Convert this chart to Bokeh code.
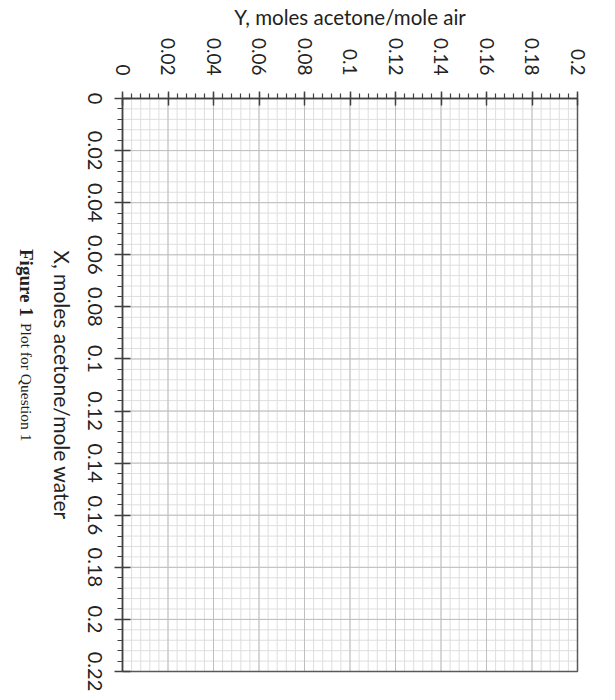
import math
from bokeh.plotting import figure
from bokeh.models import Range1d, FixedTicker, LinearAxis
from bokeh.core.properties import value
from bokeh.embed import file_html
from bokeh.resources import INLINE

# X axis (moles acetone / mole water), runs downward on the page
x_ticks = [0, 0.02, 0.04, 0.06, 0.08, 0.1, 0.12, 0.14, 0.16, 0.18, 0.2, 0.22]
x_labels = ["0", "0.02", "0.04", "0.06", "0.08", "0.1", "0.12", "0.14", "0.16", "0.18", "0.2", "0.22"]
# Y axis (moles acetone / mole air), runs left to right along the top
y_ticks = [0, 0.02, 0.04, 0.06, 0.08, 0.1, 0.12, 0.14, 0.16, 0.18, 0.2]
y_labels = ["0", "0.02", "0.04", "0.06", "0.08", "0.1", "0.12", "0.14", "0.16", "0.18", "0.2"]
minor_step = 0.004

x_title = "X, moles acetone/mole water"
y_title = "Y, moles acetone/mole air"
caption_bold = "Figure 1"
caption_rest = "Plot for Question 1"

# layout (pixels)
FIG_W, FIG_H = 615, 700
M_LEFT, M_TOP, M_RIGHT, M_BOTTOM = 122, 98, 38, 29
DARK = "#404040"
TXT = "#222222"


def minors(lo, hi, step):
    n = int(round((hi - lo) / step))
    return [round(lo + i * step, 6) for i in range(n + 1)]


x_minor = minors(x_ticks[0], x_ticks[-1], minor_step)
y_minor = minors(y_ticks[0], y_ticks[-1], minor_step)

sx = (y_ticks[-1] - y_ticks[0]) / (FIG_W - M_LEFT - M_RIGHT)
sy = (x_ticks[-1] - x_ticks[0]) / (FIG_H - M_TOP - M_BOTTOM)

p = figure(width=FIG_W, height=FIG_H,
           x_range=Range1d(y_ticks[0] - M_LEFT * sx, y_ticks[-1] + M_RIGHT * sx),
           y_range=Range1d(x_ticks[-1] + M_BOTTOM * sy, x_ticks[0] - M_TOP * sy),
           x_axis_type=None, y_axis_type=None,
           output_backend="svg", toolbar_location=None, min_border=0,
           background_fill_color="white", border_fill_color="white")
p.outline_line_color = None

# grid: minor lines first, then major lines
p.segment(x0=y_minor, y0=x_ticks[0], x1=y_minor, y1=x_ticks[-1], line_color="#dedede", line_width=1)
p.segment(x0=y_ticks[0], y0=x_minor, x1=y_ticks[-1], y1=x_minor, line_color="#dedede", line_width=1)
p.segment(x0=y_ticks, y0=x_ticks[0], x1=y_ticks, y1=x_ticks[-1], line_color="#bfbfbf", line_width=1)
p.segment(x0=y_ticks[0], y0=x_ticks, x1=y_ticks[-1], y1=x_ticks, line_color="#bfbfbf", line_width=1)

# plot-area border
p.quad(left=y_ticks[0], right=y_ticks[-1], top=x_ticks[0], bottom=x_ticks[-1],
       fill_color=None, line_color="#595959", line_width=1.5)

# top axis (Y values)
xa = LinearAxis(fixed_location=x_ticks[0], bounds=(y_ticks[0], y_ticks[-1]),
                ticker=FixedTicker(ticks=y_ticks, minor_ticks=y_minor),
                major_label_overrides={t: l for t, l in zip(y_ticks, y_labels)},
                major_label_orientation=-math.pi / 2,
                axis_label=y_title)
xa.axis_line_color = DARK
xa.axis_line_width = 1.5
xa.major_tick_line_color = DARK
xa.major_tick_line_width = 1.5
xa.minor_tick_line_color = DARK
xa.minor_tick_line_width = 1.2
xa.major_tick_out = 7
xa.major_tick_in = 7
xa.minor_tick_out = 5
xa.minor_tick_in = 0
xa.major_label_text_font = "Lato"
xa.major_label_text_color = TXT
xa.major_label_text_font_size = "19px"
xa.major_label_standoff = 16
xa.axis_label_text_font = "Lato"
xa.axis_label_text_font_style = "normal"
xa.axis_label_text_color = TXT
xa.axis_label_text_font_size = "20.5px"
xa.axis_label_standoff = 6
p.add_layout(xa, "above")

# left axis (X values): minor ticks
ya_minor = LinearAxis(fixed_location=y_ticks[0], bounds=(x_ticks[0], x_ticks[-1]),
                      ticker=FixedTicker(ticks=[], minor_ticks=x_minor))
ya_minor.axis_line_color = DARK
ya_minor.axis_line_width = 1.5
ya_minor.minor_tick_line_color = DARK
ya_minor.minor_tick_line_width = 1.2
ya_minor.minor_tick_out = 5
ya_minor.minor_tick_in = 0
p.add_layout(ya_minor, "left")

# left axis (X values): major tick marks crossing the axis
ya_major = LinearAxis(fixed_location=y_ticks[0], bounds=(x_ticks[0], x_ticks[-1]),
                      ticker=FixedTicker(ticks=[], minor_ticks=x_ticks))
ya_major.axis_line_color = None
ya_major.minor_tick_line_color = DARK
ya_major.minor_tick_line_width = 1.5
ya_major.minor_tick_out = 8
ya_major.minor_tick_in = 8
p.add_layout(ya_major, "left")

# left tick labels, rotated clockwise and centred on their ticks
n = len(x_ticks)
p.text(x=[y_ticks[0]] * n, y=x_ticks, text=x_labels, x_offset=-28, angle=-math.pi / 2,
       text_font=value("Lato"), text_font_size="20px", text_color=TXT,
       text_align="center", text_baseline="middle")

# left axis title
x_mid = (x_ticks[0] + x_ticks[-1]) / 2
p.text(x=[y_ticks[0]], y=[x_mid], text=[x_title], x_offset=-60, angle=-math.pi / 2,
       text_font=value("Lato"), text_font_size="21px", text_color=TXT,
       text_align="center", text_baseline="middle")

# caption
p.text(x=[y_ticks[0]], y=[x_mid], text=[caption_bold], x_offset=-96, y_offset=-136,
       angle=-math.pi / 2, text_font=value("Liberation Serif"), text_font_size="19px",
       text_font_style="bold", text_color=TXT, text_align="left", text_baseline="middle")
p.text(x=[y_ticks[0]], y=[x_mid], text=[caption_rest], x_offset=-96, y_offset=-62,
       angle=-math.pi / 2, text_font=value("Liberation Serif"), text_font_size="15.5px",
       text_color=TXT, text_align="left", text_baseline="middle")

open("out.html", "w").write(file_html(p, INLINE))
